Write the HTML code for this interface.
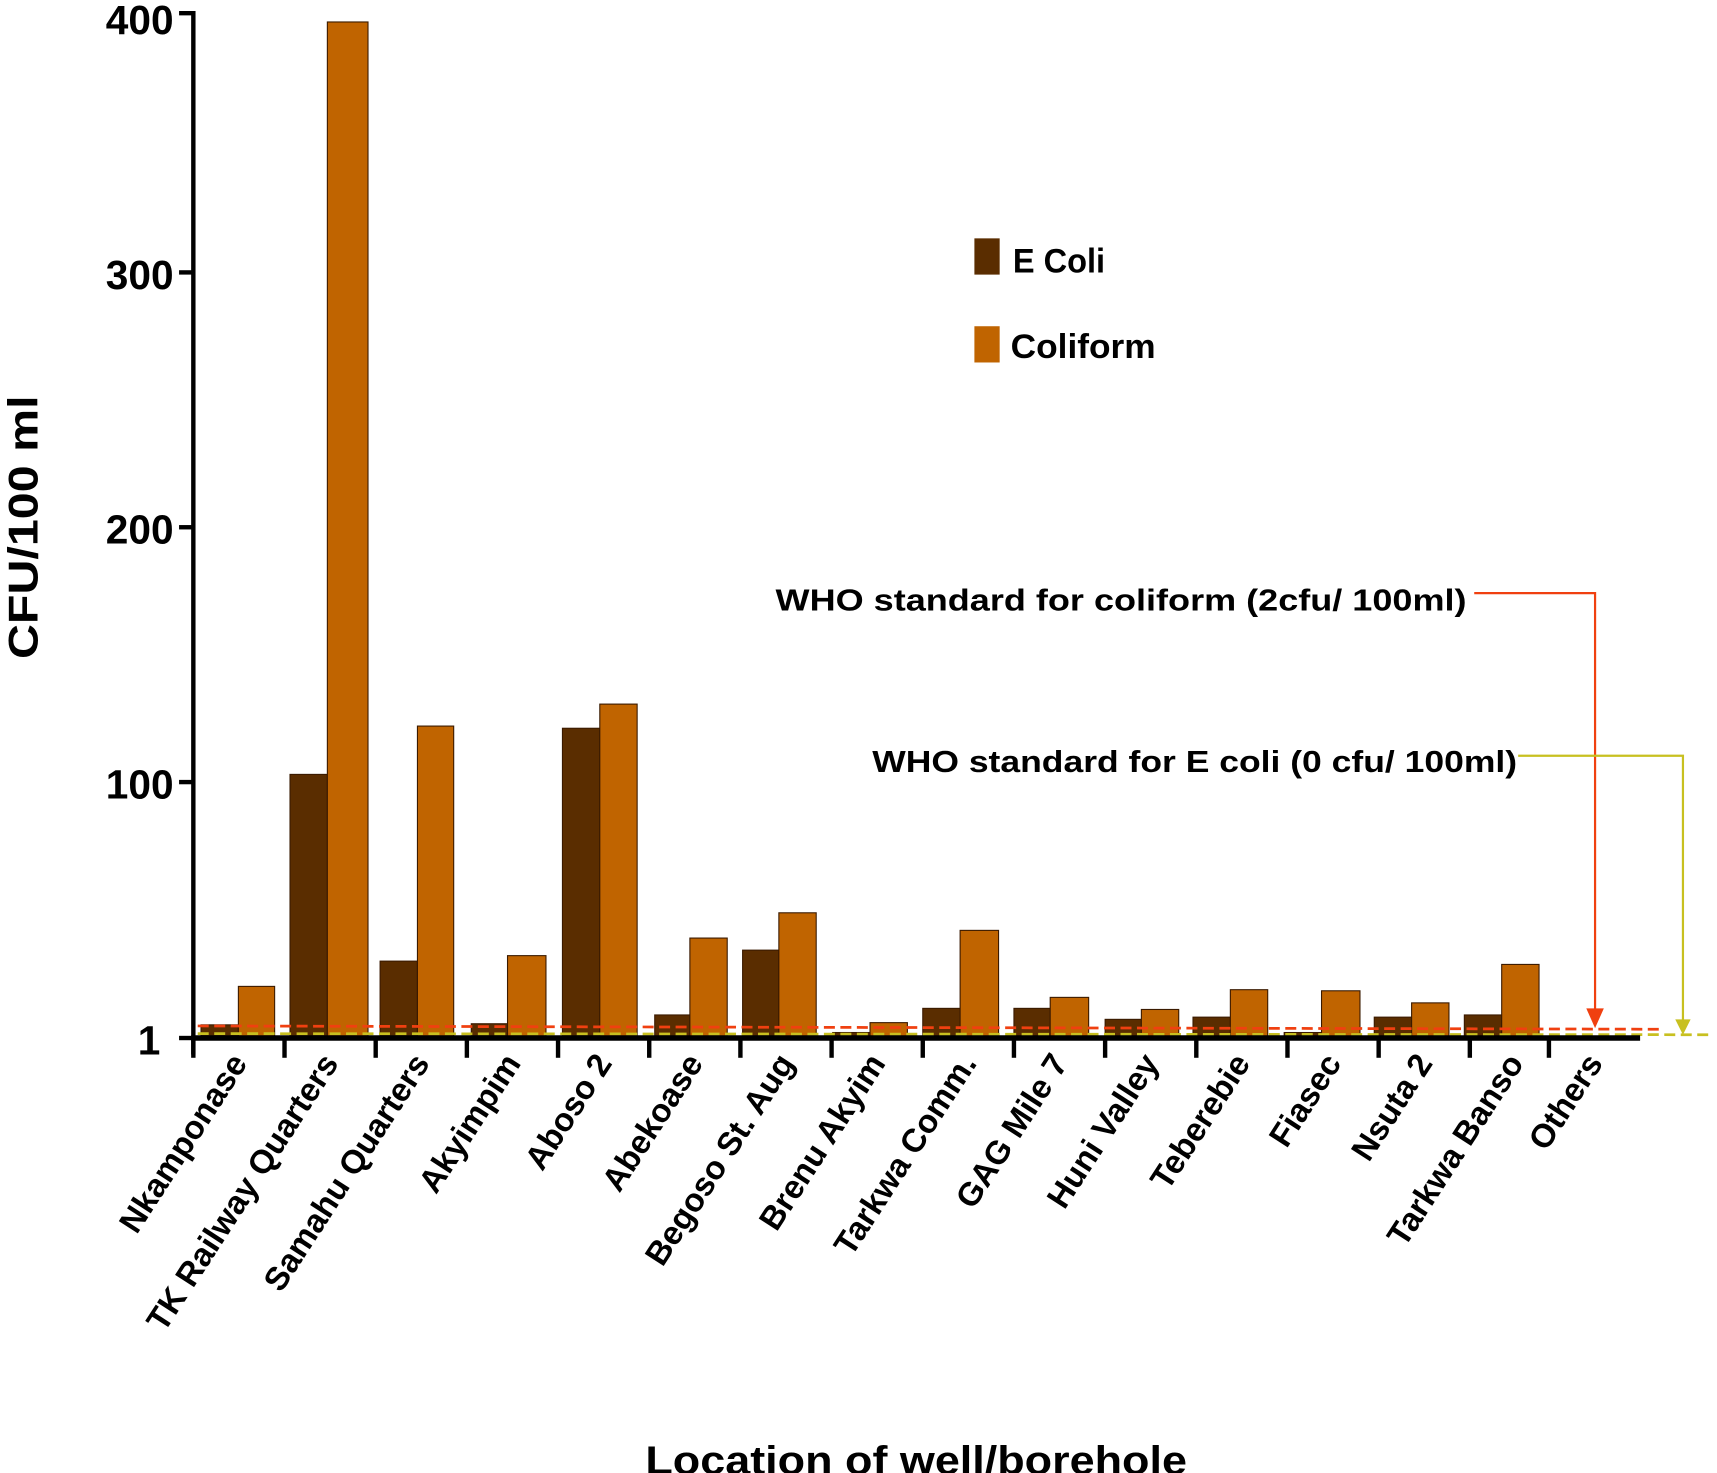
<!DOCTYPE html>
<html><head><style>html,body{margin:0;padding:0;background:#fff}svg{display:block}</style></head>
<body>
<svg width="1717" height="1473" viewBox="0 0 1563 1341" preserveAspectRatio="none" xmlns="http://www.w3.org/2000/svg" font-family="Liberation Sans, sans-serif" font-weight="bold">
<rect width="1563" height="1341" fill="#fff"/>
<g stroke="#3a1a00" stroke-width="1">
<g fill="#5A2D00">
<rect x="183" y="933" width="34" height="12"/>
<rect x="264" y="705" width="34" height="240"/>
<rect x="346" y="875" width="34" height="70"/>
<rect x="429" y="932" width="33" height="13"/>
<rect x="512" y="663" width="34" height="282"/>
<rect x="596" y="924" width="32" height="21"/>
<rect x="676" y="865" width="33" height="80"/>
<rect x="758" y="940" width="34" height="5"/>
<rect x="840" y="918" width="34" height="27"/>
<rect x="923" y="918" width="33" height="27"/>
<rect x="1006" y="928" width="33" height="17"/>
<rect x="1086" y="926" width="34" height="19"/>
<rect x="1169" y="940" width="34" height="5"/>
<rect x="1251" y="926" width="34" height="19"/>
<rect x="1333" y="924" width="34" height="21"/>
</g>
<g fill="#C06400">
<rect x="217" y="898" width="33" height="47"/>
<rect x="298" y="20" width="37" height="925"/>
<rect x="380" y="661" width="33" height="284"/>
<rect x="462" y="870" width="35" height="75"/>
<rect x="546" y="641" width="34" height="304"/>
<rect x="628" y="854" width="34" height="91"/>
<rect x="709" y="831" width="34" height="114"/>
<rect x="792" y="931" width="34" height="14"/>
<rect x="874" y="847" width="35" height="98"/>
<rect x="956" y="908" width="35" height="37"/>
<rect x="1039" y="919" width="34" height="26"/>
<rect x="1120" y="901" width="34" height="44"/>
<rect x="1203" y="902" width="35" height="43"/>
<rect x="1285" y="913" width="34" height="32"/>
<rect x="1367" y="878" width="34" height="67"/>
</g>
</g>
<line x1="180" y1="934" x2="1512" y2="937" stroke="#F04010" stroke-width="2.5" stroke-dasharray="10,5"/>
<line x1="180" y1="941" x2="1560" y2="942" stroke="#C8C020" stroke-width="2.5" stroke-dasharray="10,5"/>
<line x1="176" y1="10" x2="176" y2="960" stroke="#000" stroke-width="4"/>
<line x1="174" y1="945" x2="1493" y2="945" stroke="#000" stroke-width="5"/>
<g stroke="#000" stroke-width="4">
<line x1="163" y1="12" x2="176" y2="12"/><line x1="163" y1="248" x2="176" y2="248"/>
<line x1="163" y1="480" x2="176" y2="480"/><line x1="163" y1="712" x2="176" y2="712"/>
<line x1="163" y1="945" x2="176" y2="945"/>
<line x1="176" y1="945" x2="176" y2="963"/><line x1="259" y1="945" x2="259" y2="963"/>
<line x1="342" y1="945" x2="342" y2="963"/><line x1="425" y1="945" x2="425" y2="963"/>
<line x1="508" y1="945" x2="508" y2="963"/><line x1="591" y1="945" x2="591" y2="963"/>
<line x1="674" y1="945" x2="674" y2="963"/><line x1="757" y1="945" x2="757" y2="963"/>
<line x1="840" y1="945" x2="840" y2="963"/><line x1="923" y1="945" x2="923" y2="963"/>
<line x1="1006" y1="945" x2="1006" y2="963"/><line x1="1089" y1="945" x2="1089" y2="963"/>
<line x1="1172" y1="945" x2="1172" y2="963"/><line x1="1255" y1="945" x2="1255" y2="963"/>
<line x1="1338" y1="945" x2="1338" y2="963"/><line x1="1410" y1="945" x2="1410" y2="963"/>
</g>
<g font-size="37" text-anchor="end">
<text x="158" y="31">400</text><text x="158" y="263">300</text>
<text x="158" y="495">200</text><text x="158" y="727">100</text>
<text x="146" y="960">1</text>
</g>
<text transform="translate(34,480) rotate(-90)" font-size="38" text-anchor="middle" textLength="240" lengthAdjust="spacingAndGlyphs">CFU/100 ml</text>
<text x="834" y="1342" font-size="36" text-anchor="middle" textLength="493" lengthAdjust="spacingAndGlyphs">Location of well/borehole</text>
<g font-size="30" text-anchor="end">
<text transform="translate(226,968) rotate(-57)">Nkamponase</text>
<text transform="translate(309,968) rotate(-57)">TK Railway Quarters</text>
<text transform="translate(392,968) rotate(-57)">Samahu Quarters</text>
<text transform="translate(475,968) rotate(-57)">Akyimpim</text>
<text transform="translate(558,968) rotate(-57)">Aboso  2</text>
<text transform="translate(641,968) rotate(-57)">Abekoase</text>
<text transform="translate(724,968) rotate(-57)">Begoso St. Aug</text>
<text transform="translate(807,968) rotate(-57)">Brenu Akyim</text>
<text transform="translate(890,968) rotate(-57)">Tarkwa Comm.</text>
<text transform="translate(973,968) rotate(-57)">GAG Mile 7</text>
<text transform="translate(1056,968) rotate(-57)">Huni Valley</text>
<text transform="translate(1139,968) rotate(-57)">Teberebie</text>
<text transform="translate(1222,968) rotate(-57)">Fiasec</text>
<text transform="translate(1305,968) rotate(-57)">Nsuta 2</text>
<text transform="translate(1388,968) rotate(-57)">Tarkwa Banso</text>
<text transform="translate(1460,968) rotate(-57)">Others</text>
</g>
<rect x="887" y="217" width="23" height="33" fill="#5A2D00"/>
<text x="922" y="248" font-size="31" textLength="84" lengthAdjust="spacingAndGlyphs">E Coli</text>
<rect x="887" y="297" width="23" height="33" fill="#C06400"/>
<text x="920" y="326" font-size="31" textLength="132" lengthAdjust="spacingAndGlyphs">Coliform</text>
<text x="706" y="556" font-size="28" textLength="629" lengthAdjust="spacingAndGlyphs">WHO standard for coliform (2cfu/ 100ml)</text>
<polyline points="1342,540 1452,540 1452,925" fill="none" stroke="#F04010" stroke-width="2"/>
<polygon points="1444,918 1460,918 1452,936" fill="#F04010"/>
<text x="794" y="703" font-size="28" textLength="587" lengthAdjust="spacingAndGlyphs">WHO standard for E coli (0 cfu/ 100ml)</text>
<polyline points="1382,688 1532,688 1532,935" fill="none" stroke="#C8C020" stroke-width="2"/>
<polygon points="1525,928 1539,928 1532,942" fill="#C8C020"/>
</svg>
</body></html>
